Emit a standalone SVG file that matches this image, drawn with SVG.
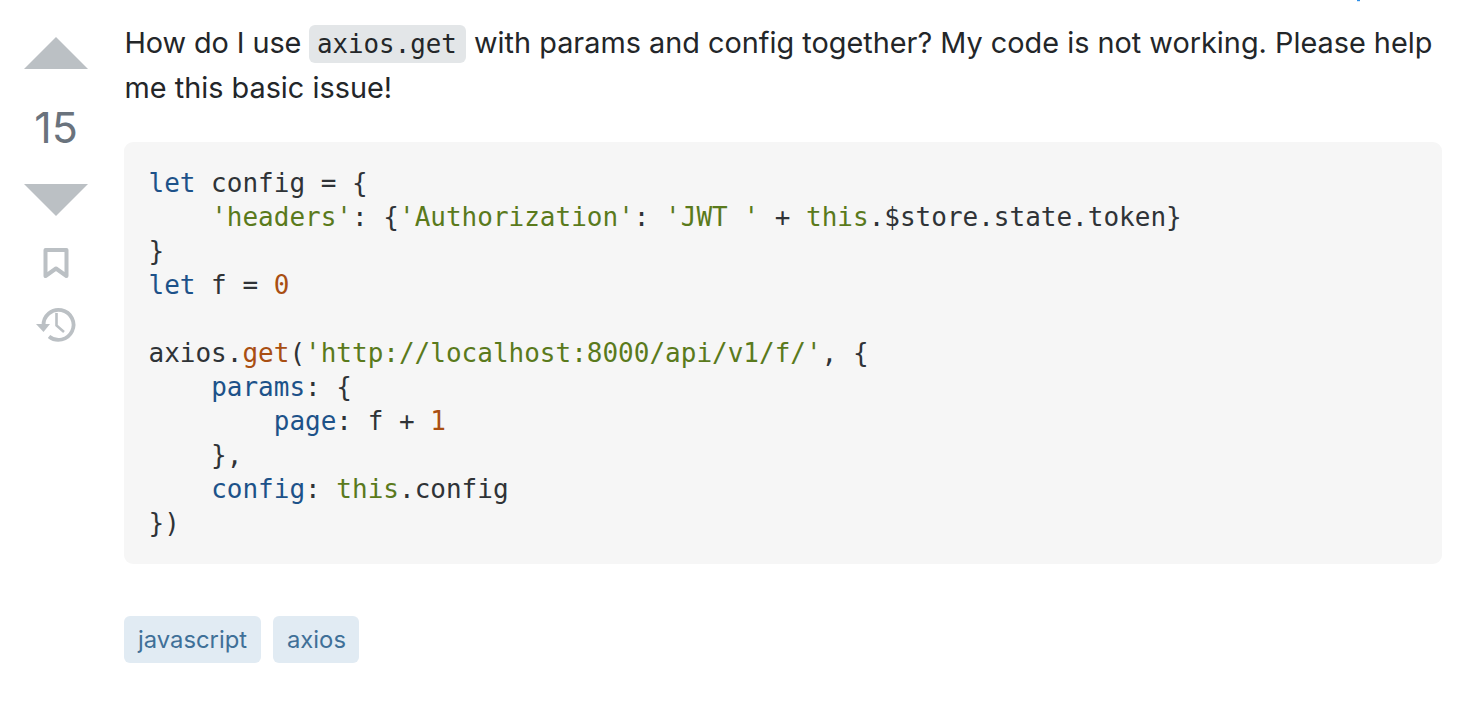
<svg xmlns="http://www.w3.org/2000/svg" width="1478" height="712" viewBox="0 0 1478 712">
<style>
.b{font-family:"Inter","Liberation Sans",sans-serif;font-size:28.850px;fill:#232629}
.m{font-family:"DejaVu Sans Mono","Liberation Mono",monospace;font-size:26px;fill:#2f3337;white-space:pre}
.k{fill:#1d5289}.s{fill:#5a7a1c}.n{fill:#a94f12}
.tag{font-family:"Inter","Liberation Sans",sans-serif;font-size:23.800px;fill:#3f7098}
.v{fill:#bbc0c4}
</style>
<rect width="1478" height="712" fill="#fff"/>
<rect x="1357" y="0" width="3" height="1.2" fill="#2f8fe8"/>
<g id="votes">
<path class="v" d="M24 69 L56 37 L88 69Z"/>
<text x="56" y="143" text-anchor="middle" style="font-family:Inter,'Liberation Sans',sans-serif;font-size:43px;fill:#6a737d">15</text>
<path class="v" d="M24 184 L88 184 L56 216Z"/>
<path d="M45.500 250 H66.500 V276 L56 268.500 L45.500 276Z" fill="none" stroke="#bbc0c4" stroke-width="4" stroke-linejoin="round"/>
<path d="M43.500 325.500 A15 15 0 1 1 49 336.500" fill="none" stroke="#bbc0c4" stroke-width="3.800"/>
<path class="v" d="M36 324 H50 L43.500 332Z"/>
<path d="M56.500 313 V325.500 L64 332" fill="none" stroke="#bbc0c4" stroke-width="2.600"/>
</g>
<g id="question">
<text class="b" x="124.500" y="53" letter-spacing="-0.1">How do I use</text>
<rect x="309" y="25" width="157" height="38" rx="6" fill="#e3e6e8"/>
<text class="m" x="317" y="53" style="font-size:25.800px;fill:#242729">axios.get</text>
<text class="b" x="474" y="53">with params and config together? My code is not working. Please help</text>
<text class="b" x="124.500" y="98">me this basic issue!</text>
</g>
<g id="code">
<rect x="124" y="142" width="1318" height="422" rx="9" fill="#f6f6f6"/>
<text class="m" x="148.500" y="192"><tspan class="k">let</tspan> config = {</text>
<text class="m" x="148.500" y="226">    <tspan class="s">'headers'</tspan>: {<tspan class="s">'Authorization'</tspan>: <tspan class="s">'JWT '</tspan> + <tspan class="s">this</tspan>.$store.state.token}</text>
<text class="m" x="148.500" y="260">}</text>
<text class="m" x="148.500" y="294"><tspan class="k">let</tspan> f = <tspan class="n">0</tspan></text>
<text class="m" x="148.500" y="362">axios.<tspan class="n">get</tspan>(<tspan class="s">'http://localhost:8000/api/v1/f/'</tspan>, {</text>
<text class="m" x="148.500" y="396">    <tspan class="k">params</tspan>: {</text>
<text class="m" x="148.500" y="430">        <tspan class="k">page</tspan>: f + <tspan class="n">1</tspan></text>
<text class="m" x="148.500" y="464">    },</text>
<text class="m" x="148.500" y="498">    <tspan class="k">config</tspan>: <tspan class="s">this</tspan>.config</text>
<text class="m" x="148.500" y="532">})</text>
</g>
<g id="tag-javascript">
<rect x="124" y="616" width="137" height="47" rx="6" fill="#e1ebf3"/>
<text class="tag" x="138" y="648">javascript</text>
</g>
<g id="tag-axios">
<rect x="273" y="616" width="86" height="47" rx="6" fill="#e1ebf3"/>
<text class="tag" x="287" y="648">axios</text>
</g>
</svg>
